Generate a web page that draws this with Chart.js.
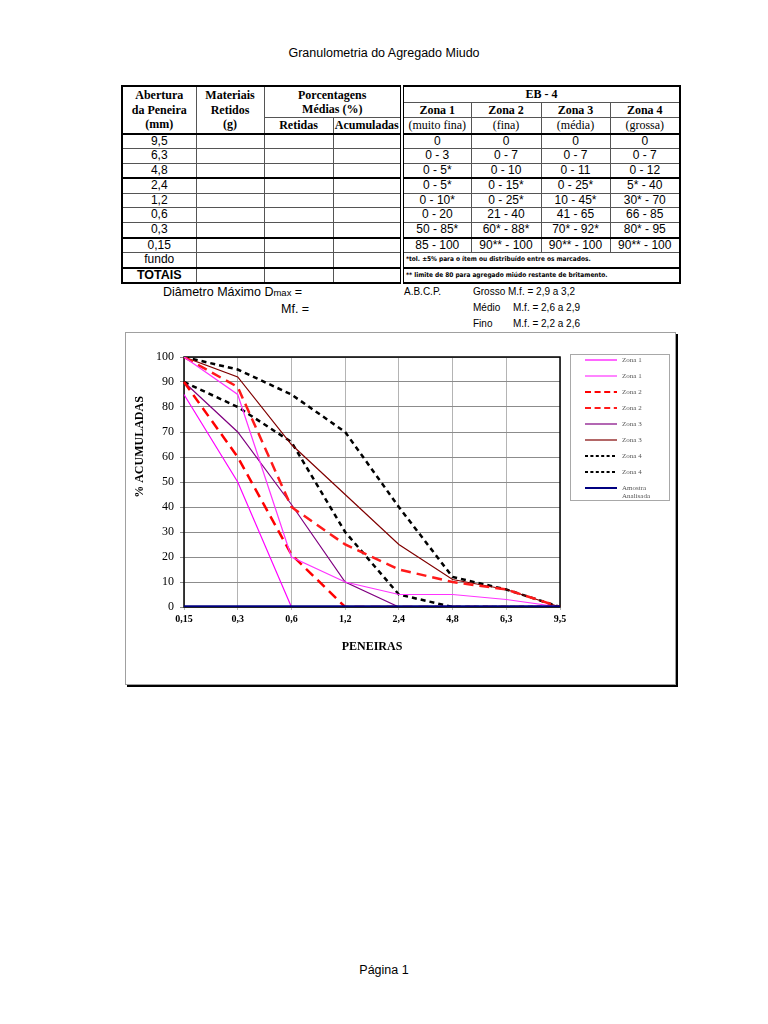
<!DOCTYPE html>
<html lang="pt">
<head>
<meta charset="utf-8">
<title>Granulometria do Agregado Miudo</title>
<script src="https://cdn.jsdelivr.net/npm/chart.js@4.4.1/dist/chart.umd.min.js"></script>
<style>
  body { margin:0; width:768px; height:1024px; position:relative; background:#fff; color:#000;
         font-family:"Liberation Sans", Arial, sans-serif; }
  .abs { position:absolute; white-space:nowrap; line-height:14px; }
  #titulo { left:0; width:768px; top:46px; text-align:center; font-size:12.5px; }
  #pagina { left:0; width:768px; top:963px; text-align:center; font-size:12.5px; }

  #tabela { position:absolute; left:121px; top:85px; width:558px; border-collapse:collapse;
            table-layout:fixed; border:2px solid #000; }
  #tabela td { border:1px solid #555; padding:0; text-align:center; height:13.6px; line-height:13.6px;
               font-size:12px; white-space:nowrap; overflow:hidden; }
  #tabela td.cab { font-family:"Liberation Serif", "Times New Roman", serif; font-weight:bold; font-size:12px; line-height:14.5px; height:14px; }
  #tabela td.sub { font-family:"Liberation Serif", "Times New Roman", serif; font-size:12px; line-height:14px; }
  #tabela td.sep { border-left:4px double #000; }
  #tabela tr.grosso td { border-top:2px solid #000; }
  #tabela td.nota { text-align:left; padding-left:2px; font-family:"DejaVu Sans Condensed", "DejaVu Sans", sans-serif;
                    font-stretch:condensed; font-weight:bold; font-size:6.5px; }
  #tabela td.tot { font-weight:bold; font-size:12.5px; }

  .pe { font-size:12.5px; }
  .pd { font-size:10px; }

  #moldura { position:absolute; left:125px; top:332px; width:549px; height:351px;
             border:1px solid #a0a0a0; box-shadow:2px 2px 0 #000; background:#fff; }
  #grafico { display:block; }
</style>
</head>
<body>
<div id="titulo" class="abs">Granulometria do Agregado Miudo</div>

<table id="tabela">
  <colgroup>
    <col style="width:74px"><col style="width:68px"><col style="width:69px"><col style="width:69px">
    <col style="width:69px"><col style="width:70px"><col style="width:69px"><col style="width:70px">
  </colgroup>
  <tbody id="corpo">
    <tr>
      <td class="cab" rowspan="3">Abertura<br>da Peneira<br>(mm)</td>
      <td class="cab" rowspan="3">Materiais<br>Retidos<br>(g)</td>
      <td class="cab" colspan="2" rowspan="2">Porcentagens<br>Médias (%)</td>
      <td class="cab sep" colspan="4">EB - 4</td>
    </tr>
    <tr>
      <td class="cab sep">Zona 1</td><td class="cab">Zona 2</td><td class="cab">Zona 3</td><td class="cab">Zona 4</td>
    </tr>
    <tr>
      <td class="cab">Retidas</td><td class="cab">Acumuladas</td>
      <td class="sub sep">(muito fina)</td><td class="sub">(fina)</td><td class="sub">(média)</td><td class="sub">(grossa)</td>
    </tr>
  </tbody>
</table>

<div class="abs pe" style="left:163px; top:285px;">Diâmetro Máximo D<span style="font-size:9.5px">max</span> =</div>
<div class="abs pe" style="left:281px; top:302px;">Mf. =</div>
<div class="abs pd" style="left:404px; top:285px;">A.B.C.P.</div>
<div class="abs pd" style="left:473px; top:285px;">Grosso M.f. = 2,9 a 3,2</div>
<div class="abs pd" style="left:473px; top:301px;">Médio</div>
<div class="abs pd" style="left:513px; top:301px;">M.f. = 2,6 a 2,9</div>
<div class="abs pd" style="left:473px; top:317px;">Fino</div>
<div class="abs pd" style="left:513px; top:317px;">M.f. = 2,2 a 2,6</div>

<div id="moldura"><canvas id="grafico" width="549" height="351"></canvas></div>

<div id="pagina" class="abs">Página 1</div>

<script>
// peneiras (mm) no eixo x
const peneiras = ["0,15", "0,3", "0,6", "1,2", "2,4", "4,8", "6,3", "9,5"]

// limites da EB-4 (% acumuladas), na ordem das peneiras acima
const zona1Inf = [85, 50, 0, 0, 0, 0, 0, 0]
const zona1Sup = [100, 85, 20, 10, 5, 5, 3, 0]
const zona2Inf = [90, 60, 21, 0, 0, 0, 0, 0]
const zona2Sup = [100, 88, 40, 25, 15, 10, 7, 0]
const zona3Inf = [90, 70, 41, 10, 0, 0, 0, 0]
const zona3Sup = [100, 92, 65, 45, 25, 11, 7, 0]
const zona4Inf = [90, 80, 66, 30, 5, 0, 0, 0]
const zona4Sup = [100, 95, 85, 70, 40, 12, 7, 0]
const amostra = [0, 0, 0, 0, 0, 0, 0, 0]

const ticksY = [0, 10, 20, 30, 40, 50, 60, 70, 80, 90, 100]

// linhas da tabela
const aberturas = ["9,5", "6,3", "4,8", "2,4", "1,2", "0,6", "0,3", "0,15"]
const faixas = [
  ["0", "0", "0", "0"],
  ["0 - 3", "0 - 7", "0 - 7", "0 - 7"],
  ["0 - 5*", "0 - 10", "0 - 11", "0 - 12"],
  ["0 - 5*", "0 - 15*", "0 - 25*", "5* - 40"],
  ["0 - 10*", "0 - 25*", "10 - 45*", "30* - 70"],
  ["0 - 20", "21 - 40", "41 - 65", "66 - 85"],
  ["50 - 85*", "60* - 88*", "70* - 92*", "80* - 95"],
  ["85 - 100", "90** - 100", "90** - 100", "90** - 100"],
]

const corpo = document.getElementById("corpo")
const grossos = [0, 3, 7]
aberturas.forEach((ab, i) => {
  const tr = document.createElement("tr")
  if (grossos.includes(i)) tr.className = "grosso"
  let html = `<td>${ab}</td><td></td><td></td><td></td>`
  faixas[i].forEach((f, j) => {
    html += `<td${j === 0 ? ' class="sep"' : ""}>${f}</td>`
  })
  tr.innerHTML = html
  corpo.appendChild(tr)
})
corpo.insertAdjacentHTML("beforeend",
  `<tr><td>fundo</td><td></td><td></td><td></td>
     <td class="nota sep" colspan="4">*tol. ±5% para o ítem ou distribuído entre os marcados.</td></tr>
   <tr class="grosso"><td class="tot">TOTAIS</td><td></td><td></td><td></td>
     <td class="nota sep" colspan="4">** limite de 80 para agregado miúdo restante de britamento.</td></tr>`)

const serif = '"Liberation Serif", "Times New Roman", serif'

// moldura preta da area de plotagem
const molduraPlot = {
  id: "molduraPlot",
  beforeDatasetsDraw(chart) {
    const { ctx, chartArea: a } = chart
    ctx.save()
    ctx.strokeStyle = "#000"
    ctx.lineWidth = 1.5
    ctx.strokeRect(a.left, a.top, a.right - a.left, a.bottom - a.top)
    ctx.restore()
  },
}

// titulo do eixo y (deslocado para cima como no original) e legenda em caixa
const extras = {
  id: "extras",
  afterDraw(chart) {
    const { ctx, chartArea: a } = chart
    ctx.save()
    ctx.translate(a.left - 44, a.top + 90)
    ctx.rotate(-Math.PI / 2)
    ctx.font = "bold 12px " + serif
    ctx.fillStyle = "#000"
    ctx.textAlign = "center"
    ctx.textBaseline = "middle"
    ctx.fillText("% ACUMULADAS", 0, 0)
    ctx.restore()

    const x0 = a.right + 10
    const y0 = a.top - 3
    ctx.save()
    ctx.strokeStyle = "#a8a8a8"
    ctx.lineWidth = 1
    ctx.strokeRect(x0 + 0.5, y0 + 0.5, 99, 146)
    ctx.font = "7px " + serif
    ctx.textBaseline = "middle"
    chart.data.datasets.forEach((ds, i) => {
      const y = y0 + 6 + i * 16
      ctx.beginPath()
      ctx.strokeStyle = ds.borderColor
      ctx.lineWidth = Math.min(ds.borderWidth, 2)
      ctx.setLineDash((ds.borderDash || []).map((d) => d * 0.6))
      ctx.moveTo(x0 + 15, y)
      ctx.lineTo(x0 + 47, y)
      ctx.stroke()
      ctx.setLineDash([])
      ctx.fillStyle = "#555"
      ds.label.startsWith("Amostra")
        ? ds.label.split(" ").forEach((w, k) => ctx.fillText(w, x0 + 52, y + k * 8))
        : ctx.fillText(ds.label, x0 + 52, y)
    })
    ctx.restore()
  },
}

const linha = (label, data, cor, largura, traco) => ({
  label,
  data,
  borderColor: cor,
  backgroundColor: cor,
  borderWidth: largura,
  borderDash: traco || [],
  pointRadius: 0,
  tension: 0,
  fill: false,
})

const datasets = [
  linha("Zona 1", zona1Inf, "#ff00ff", 1.2),
  linha("Zona 1", zona1Sup, "#ff33ff", 1.2),
  linha("Zona 2", zona2Inf, "#ff0000", 2.5, [10, 6]),
  linha("Zona 2", zona2Sup, "#ff1a1a", 2.5, [10, 6]),
  linha("Zona 3", zona3Inf, "#800080", 1.2),
  linha("Zona 3", zona3Sup, "#800000", 1.2),
  linha("Zona 4", zona4Inf, "#000000", 2.5, [5, 4]),
  linha("Zona 4", zona4Sup, "#000000", 2.5, [5, 4]),
  Object.assign(linha("Amostra Analisada", amostra, "#000080", 3.5), { order: -1 }),
]

new Chart(document.getElementById("grafico"), {
  type: "line",
  data: { labels: peneiras, datasets },
  options: {
    responsive: false,
    animation: false,
    layout: { padding: { top: 24, right: 115, bottom: 7, left: 0 } },
    plugins: {
      legend: { display: false },
      tooltip: { enabled: false },
    },
    scales: {
      x: {
        offset: false,
        grid: { color: "#b4b4b4", lineWidth: 1, tickLength: 3 },
        border: { display: false },
        ticks: { color: "#000", padding: 3, maxRotation: 0, font: { family: serif, size: 10, weight: "bold" } },
        title: {
          display: true,
          text: "PENEIRAS",
          color: "#000",
          font: { family: serif, size: 12, weight: "bold" },
          padding: { top: 0, bottom: 23 },
        },
        afterFit: (scale) => { scale.height = 70 },
      },
      y: {
        min: 0,
        max: 100,
        afterBuildTicks: (scale) => { scale.ticks = ticksY.map((v) => ({ value: v })) },
        grid: { color: "#8c8c8c", lineWidth: 1, tickLength: 4 },
        border: { display: false },
        ticks: { color: "#000", padding: 6, font: { family: serif, size: 12 } },
        afterFit: (scale) => { scale.width = 58 },
      },
    },
  },
  plugins: [molduraPlot, extras],
})
</script>
</body>
</html>
